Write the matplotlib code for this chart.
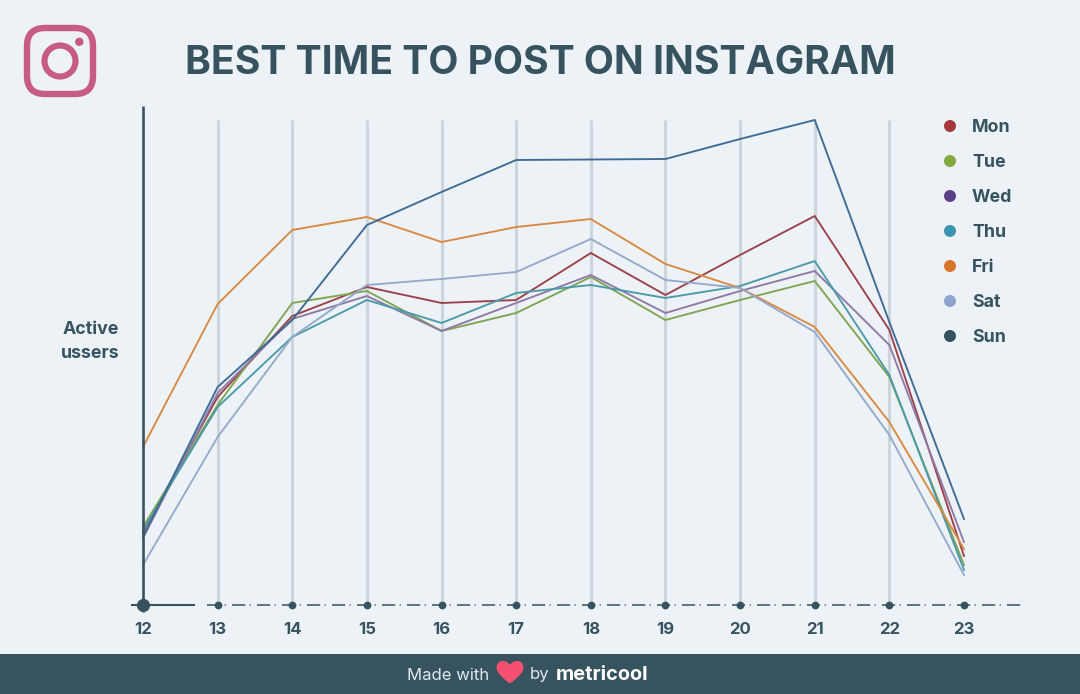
import matplotlib
matplotlib.use("Agg")
import matplotlib.pyplot as plt
from matplotlib.patches import Circle, FancyBboxPatch, PathPatch, Rectangle
from matplotlib.path import Path

plt.rcParams["lines.scale_dashes"] = False
plt.rcParams["font.family"] = ["Inter", "DejaVu Sans"]

hours = [12, 13, 14, 15, 16, 17, 18, 19, 20, 21, 22, 23]
days = ["Mon", "Tue", "Wed", "Thu", "Fri", "Sat", "Sun"]

# Activity level per hour, on an index running from 0 at the baseline
mon = [73, 208, 289, 318, 302, 305, 352, 310, 350, 389, 275, 49]
tue = [78, 200, 302, 314, 274, 292, 328, 285, 305, 324, 228, 40]
wed = [67, 212, 286, 309, 274, 302, 330, 292, 314, 334, 260, 63]
thu = [75, 198, 268, 305, 282, 312, 320, 307, 319, 344, 230, 35]
fri = [158, 301, 375, 388, 363, 378, 386, 341, 317, 278, 183, 56]
sat = [40, 168, 268, 320, 326, 333, 366, 325, 317, 273, 170, 30]
sun = [68, 218, 285, 380, 413, 445, 445.5, 446, 466, 485, 283, 86]
series = [mon, tue, wed, thu, fri, sat, sun]

line_colors = ["#9c4149", "#7fa553", "#8f79a6", "#4b9aa9", "#d98a42", "#94a9cb", "#3f6b94"]
legend_colors = ["#a63a3a", "#84a83e", "#5c3f87", "#3d94b0", "#d9752a", "#8ea4cf", "#34525f"]

INK = "#36535f"
PAPER = "#edf2f6"
GRID = "#ccd5db"

W, H = 1080, 694
fig = plt.figure(figsize=(W / 100, H / 100), dpi=100, facecolor=PAPER)

# Layer in pixel units for the header, legend, footer and badge
deco = fig.add_axes([0, 0, 1, 1])
deco.set_xlim(0, W)
deco.set_ylim(H, 0)
deco.axis("off")

# Plot area: hour 12 sits on the axis line, hour 23 on the last tick
x0, x1, y_base, y_top = 143, 964, 605, 105
ax = fig.add_axes([x0 / W, 1 - y_base / H, (x1 - x0) / W, (y_base - y_top) / H])
ax.set_xlim(12, 23)
ax.set_ylim(0, 500)
ax.axis("off")
ax.patch.set_alpha(0)

for h in hours[1:-1]:
    ax.plot([h, h], [0, 485], color=GRID, lw=2.2, solid_capstyle="butt", zorder=1, clip_on=False)

# Baseline: a short solid stretch followed by a dash-dot run
ax.plot([11.855, 12.68], [0, 0], color=INK, lw=1.5, zorder=2, clip_on=False)
ax.plot([12.86, 23.78], [0, 0], color=INK, lw=1.1, zorder=2, clip_on=False,
        linestyle=(0, (9.5, 3.2, 0.8, 4.5)))
ax.plot([12, 12], [-7, 499], color=INK, lw=1.9, solid_capstyle="butt", zorder=5, clip_on=False)
ax.plot(hours[1:], [0] * 11, "o", color=INK, ms=5.6, mew=0, zorder=6, clip_on=False)
ax.plot([12], [0], "o", color=INK, ms=9.5, mew=0, zorder=6, clip_on=False)

for values, color in zip(series, line_colors):
    ax.plot(hours, values, color=color, lw=1.35, solid_joinstyle="miter", zorder=4, clip_on=False)

for h in hours:
    px = x0 + (h - 12) * (x1 - x0) / 11
    deco.text(px, 630, str(h), ha="center", va="center", color=INK, fontsize=12, fontweight="bold")

deco.text(540, 63, "BEST TIME TO POST ON INSTAGRAM", ha="center", va="center",
          color=INK, fontsize=28.2, fontweight="bold")
deco.text(90.5, 329, "Active", ha="center", va="center", color=INK, fontsize=12.8, fontweight="bold")
deco.text(90.5, 353, "ussers", ha="center", va="center", color=INK, fontsize=12.8, fontweight="bold")

for i, (day, color) in enumerate(zip(days, legend_colors)):
    y = 126 + i * 35
    deco.add_patch(Circle((950, y), 6, color=color, lw=0))
    deco.text(972, y + 1, day, ha="left", va="center", color=INK, fontsize=12.8, fontweight="bold")

# Camera badge
BADGE = "#c65b83"
deco.add_patch(FancyBboxPatch((42, 43), 36, 36, boxstyle="round,pad=15,rounding_size=18",
                              fc="none", ec=BADGE, lw=4.6))
deco.add_patch(Circle((60, 61), 15.5, fc="none", ec=BADGE, lw=4.4))
deco.add_patch(Circle((79.3, 41.8), 4.2, color=BADGE, lw=0))

# Footer band
deco.add_patch(Rectangle((0, 654), W, 40, color=INK, lw=0))
deco.text(407, 675, "Made with", ha="left", va="center", color="#dfe9ef", fontsize=12)
deco.text(530, 675, "by", ha="left", va="center", color="#dfe9ef", fontsize=12)
deco.text(556, 674.5, "metricool", ha="left", va="center", color="#ffffff", fontsize=14.4, fontweight="bold")

heart = Path(
    [(510, 683.5), (501, 677), (496.5, 672), (496.5, 667.5),
     (496.5, 660), (506, 658.5), (510, 665),
     (514, 658.5), (523.5, 660), (523.5, 667.5),
     (523.5, 672), (519, 677), (510, 683.5)],
    [Path.MOVETO, Path.CURVE4, Path.CURVE4, Path.CURVE4,
     Path.CURVE4, Path.CURVE4, Path.CURVE4,
     Path.CURVE4, Path.CURVE4, Path.CURVE4,
     Path.CURVE4, Path.CURVE4, Path.CURVE4],
)
deco.add_patch(PathPatch(heart, fc="#f5506f", ec="none"))

fig.savefig("out.png", dpi=100, facecolor=PAPER)
